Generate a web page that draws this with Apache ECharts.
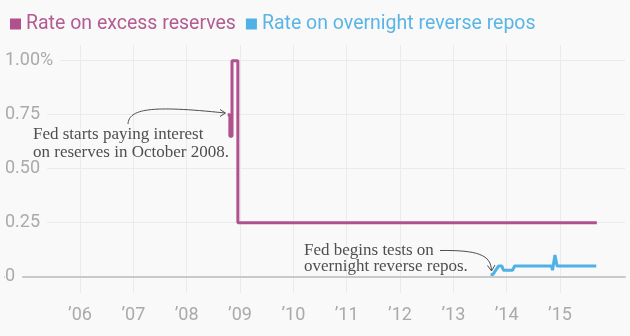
<!DOCTYPE html>
<html><head><meta charset="utf-8">
<script src="https://cdn.jsdelivr.net/npm/echarts@6/dist/echarts.min.js"></script>
<style>html,body{margin:0;padding:0;background:#f9f9f9}#c{width:630px;height:336px}</style>
</head><body><div id="c"></div>
<script>
// ---- data ----
const tickYears = [2006, 2007, 2008, 2009, 2010, 2011, 2012, 2013, 2014, 2015];
const tickLabels = ["’06", "’07", "’08", "’09", "’10", "’11", "’12", "’13", "’14", "’15"];
const yTickLabels = ["0", "0.25", "0.50", "0.75", "1.00%"];
const seriesNames = ["Rate on excess reserves", "Rate on overnight reverse repos"];

// Rate on excess reserves (decimal year, % rate)
const ioerDates = [2008.77, 2008.81, 2008.85, 2008.96, 2015.69];
const ioerRates = [0.75, 0.65, 1.00, 0.25, 0.25];

// Rate on overnight reverse repos (decimal year, % rate)
const rrpDates = [2013.70, 2013.74, 2013.85, 2013.91, 2013.94, 2014.11, 2014.15, 2014.84, 2014.86, 2014.875, 2014.905, 2014.93, 2014.945, 2015.68];
const rrpRates = [0.01, 0.01, 0.05, 0.05, 0.03, 0.03, 0.05, 0.05, 0.03, 0.03, 0.10, 0.10, 0.05, 0.05];

const BG = '#f9f9f9';
const PURPLE = '#b0508c';
const BLUE = '#4fb1e6';
const GRID = '#ebebeb';
const LABEL = '#aaaaaa';
const NOTE = '#4f4f4f';

const chart = echarts.init(document.getElementById('c'), null, {renderer: 'canvas'});

const zip = (xs, ys) => xs.map((x, i) => [x, ys[i]]);

// data grid: 2006 at x=80, 53.333 px per year, right edge at x=600
const dataMax = 2006 + 520 / (480 / 9);

const option = {
  backgroundColor: BG,
  animation: false,
  legend: {
    left: 5, top: 9, itemWidth: 11, itemHeight: 11, itemGap: 10, icon: 'rect',
    textStyle: {fontFamily: 'Roboto', fontSize: 19.5},
    data: [
      {name: seriesNames[0], textStyle: {color: '#b35b92'}},
      {name: seriesNames[1], textStyle: {color: '#5ab5e6'}}
    ]
  },
  grid: [
    {left: 5, right: 5, top: 60.7, bottom: 59.3},
    {left: 80, right: 70, top: 45, bottom: 43},
    {left: 80, right: 30, top: 60.7, bottom: 59.3}
  ],
  xAxis: [
    {gridIndex: 0, type: 'value', min: 0, max: 1,
     axisLine: {show: true, onZero: false, lineStyle: {color: '#c9c9c9', width: 2}},
     axisTick: {show: false}, axisLabel: {show: false}, splitLine: {show: false}},
    {gridIndex: 1, type: 'value', min: tickYears[0], max: tickYears[tickYears.length - 1], interval: 1,
     axisLine: {show: false}, axisTick: {show: false},
     axisLabel: {margin: 13, color: LABEL, fontFamily: 'Roboto', fontSize: 18,
       formatter: v => tickLabels[tickYears.indexOf(Math.round(v))] || ''},
     splitLine: {show: true, showMinLine: true, showMaxLine: true, lineStyle: {color: GRID, width: 1}}},
    {gridIndex: 2, type: 'value', min: tickYears[0], max: dataMax, show: false}
  ],
  yAxis: [
    {gridIndex: 0, type: 'value', min: 0, max: 1, interval: 0.25, z: 5,
     axisLine: {show: false}, axisTick: {show: false},
     axisLabel: {inside: true, margin: 0, align: 'left', color: LABEL, fontFamily: 'Roboto', fontSize: 18,
       backgroundColor: BG, padding: [2, 7, 2, 0],
       formatter: (v) => yTickLabels[Math.round(v * 4)]},
     splitLine: {show: true, showMinLine: false, lineStyle: {color: GRID, width: 1}}},
    {gridIndex: 1, type: 'value', show: false, splitLine: {show: false}},
    {gridIndex: 2, type: 'value', min: 0, max: 1, show: false, splitLine: {show: false}}
  ],
  series: [
    {name: seriesNames[0], type: 'line', xAxisIndex: 2, yAxisIndex: 2, step: 'end',
     data: zip(ioerDates, ioerRates), showSymbol: false, clip: false, color: PURPLE,
     lineStyle: {width: 3, color: PURPLE}, z: 10},
    {name: seriesNames[1], type: 'line', xAxisIndex: 2, yAxisIndex: 2,
     data: zip(rrpDates, rrpRates), showSymbol: false, clip: false, color: BLUE,
     lineStyle: {width: 3, color: BLUE}, z: 10}
  ],
  graphic: [
    {type: 'text', left: 33, top: 126, z: 20, style: {text: 'Fed starts paying interest\non reserves in October 2008.', font: '17px "Liberation Serif"', fill: NOTE, lineHeight: 18}},
    {type: 'text', left: 304, top: 242, z: 20, style: {text: 'Fed begins tests on\novernight reverse repos.', font: '17px "Liberation Serif"', fill: NOTE, lineHeight: 16.5}},
    {type: 'bezierCurve', z: 20, shape: {x1: 128, y1: 124, cpx1: 129, cpy1: 109, cpx2: 150, cpy2: 105, x2: 225, y2: 113}, style: {stroke: NOTE, lineWidth: 1, fill: null}},
    {type: 'polyline', z: 20, shape: {points: [[220, 109.5], [225.5, 113], [220, 116.5]]}, style: {stroke: NOTE, lineWidth: 1, fill: null}},
    {type: 'bezierCurve', z: 20, shape: {x1: 440, y1: 250.5, cpx1: 478, cpy1: 250, cpx2: 491, cpy2: 255, x2: 491.5, y2: 270.5}, style: {stroke: NOTE, lineWidth: 1, fill: null}},
    {type: 'polyline', z: 20, shape: {points: [[487.5, 265.5], [491.5, 271], [495, 265]]}, style: {stroke: NOTE, lineWidth: 1, fill: null}}
  ]
};
chart.setOption(option);
</script>
</body></html>
